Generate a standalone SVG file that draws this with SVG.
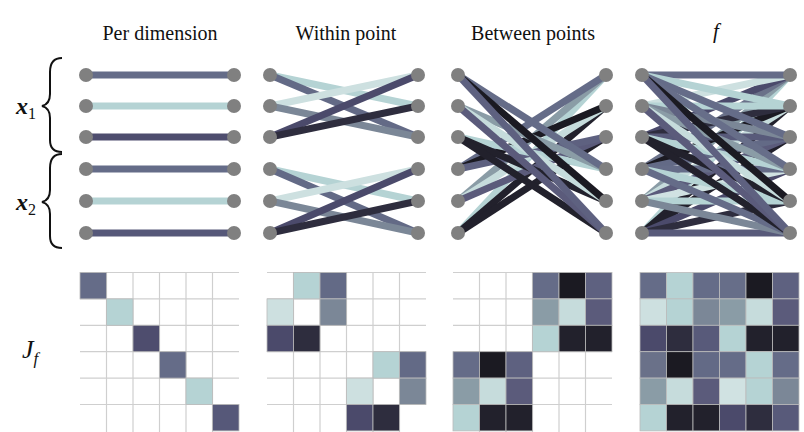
<svg xmlns="http://www.w3.org/2000/svg" width="804" height="432" viewBox="0 0 804 432">
<style>
.t{font-family:"Liberation Serif",serif;font-size:20px;fill:#111;text-anchor:middle}
.m{font-family:"Liberation Serif",serif;font-style:italic;fill:#111}
.e line{stroke-width:7;stroke-linecap:butt}
.n circle{fill:#808080}
.g line{stroke:#cfcfcf;stroke-width:1.2}
.c rect{width:26.5px;height:26.4px;stroke:#bbb;stroke-width:0.8}
</style>
<rect width="804" height="432" fill="#fff"/>
<g id="titles">
<text class="t" x="160" y="40">Per dimension</text>
<text class="t" x="346" y="40">Within point</text>
<text class="t" x="533" y="40">Between points</text>
<text class="m" x="713" y="38" font-size="21">f</text>
</g>
<g id="labels">
<text class="m" x="16" y="114" font-size="24" font-weight="bold">x<tspan font-size="16" font-style="normal" font-weight="normal" dy="5">1</tspan></text>
<text class="m" x="16" y="210" font-size="24" font-weight="bold">x<tspan font-size="16" font-style="normal" font-weight="normal" dy="5">2</tspan></text>
<path d="M62,58 Q50,58 50,72 L50,94 Q50,104 42,106 Q50,108 50,118 L50,140 Q50,152 62,152" fill="none" stroke="#111" stroke-width="2"/>
<path d="M62,154 Q50,154 50,168 L50,190 Q50,200 42,202 Q50,204 50,214 L50,236 Q50,248 62,248" fill="none" stroke="#111" stroke-width="2"/>
<text class="m" x="22" y="358" font-size="26">J<tspan font-size="17" dy="6">f</tspan></text>
</g>
<g id="connectors" class="e">
<g transform="translate(86,0)">
<line x1="0" y1="75" x2="148" y2="75" stroke="#656c88"/>
<line x1="0" y1="106" x2="148" y2="106" stroke="#b5d3d4"/>
<line x1="0" y1="137" x2="148" y2="137" stroke="#4e4d6e"/>
<line x1="0" y1="169" x2="148" y2="169" stroke="#656c88"/>
<line x1="0" y1="201" x2="148" y2="201" stroke="#b5d3d4"/>
<line x1="0" y1="233" x2="148" y2="233" stroke="#565879"/>
</g>
<g transform="translate(270,0)">
<line x1="0" y1="75" x2="148" y2="106" stroke="#b5d3d4"/>
<line x1="0" y1="75" x2="148" y2="137" stroke="#636a86"/>
<line x1="0" y1="106" x2="148" y2="75" stroke="#cde0e0"/>
<line x1="0" y1="106" x2="148" y2="137" stroke="#7b8797"/>
<line x1="0" y1="137" x2="148" y2="75" stroke="#4b4a6b"/>
<line x1="0" y1="137" x2="148" y2="106" stroke="#2e2d3e"/>
<line x1="0" y1="169" x2="148" y2="201" stroke="#b5d3d4"/>
<line x1="0" y1="169" x2="148" y2="233" stroke="#636a86"/>
<line x1="0" y1="201" x2="148" y2="169" stroke="#cde0e0"/>
<line x1="0" y1="201" x2="148" y2="233" stroke="#7b8797"/>
<line x1="0" y1="233" x2="148" y2="169" stroke="#4b4a6b"/>
<line x1="0" y1="233" x2="148" y2="201" stroke="#2e2d3e"/>
</g>
<g transform="translate(458,0)">
<line x1="0" y1="233" x2="148" y2="75" stroke="#b5d3d4"/>
<line x1="0" y1="233" x2="148" y2="106" stroke="#22212c"/>
<line x1="0" y1="233" x2="148" y2="137" stroke="#22212c"/>
<line x1="0" y1="201" x2="148" y2="75" stroke="#8a9ca6"/>
<line x1="0" y1="201" x2="148" y2="106" stroke="#c6dcdc"/>
<line x1="0" y1="201" x2="148" y2="137" stroke="#5b5b7b"/>
<line x1="0" y1="169" x2="148" y2="75" stroke="#656c88"/>
<line x1="0" y1="169" x2="148" y2="106" stroke="#1b1a22"/>
<line x1="0" y1="169" x2="148" y2="137" stroke="#5e6180"/>
<line x1="0" y1="137" x2="148" y2="169" stroke="#b5d3d4"/>
<line x1="0" y1="137" x2="148" y2="201" stroke="#22212c"/>
<line x1="0" y1="137" x2="148" y2="233" stroke="#22212c"/>
<line x1="0" y1="106" x2="148" y2="169" stroke="#8a9ca6"/>
<line x1="0" y1="106" x2="148" y2="201" stroke="#c6dcdc"/>
<line x1="0" y1="106" x2="148" y2="233" stroke="#5b5b7b"/>
<line x1="0" y1="75" x2="148" y2="169" stroke="#656c88"/>
<line x1="0" y1="75" x2="148" y2="201" stroke="#1b1a22"/>
<line x1="0" y1="75" x2="148" y2="233" stroke="#5e6180"/>
</g>
<g transform="translate(642,0)">
<line x1="0" y1="233" x2="148" y2="75" stroke="#b5d3d4"/>
<line x1="0" y1="233" x2="148" y2="106" stroke="#22212c"/>
<line x1="0" y1="233" x2="148" y2="137" stroke="#22212c"/>
<line x1="0" y1="233" x2="148" y2="169" stroke="#4b4a6b"/>
<line x1="0" y1="233" x2="148" y2="201" stroke="#2e2d3e"/>
<line x1="0" y1="233" x2="148" y2="233" stroke="#585a7a"/>
<line x1="0" y1="201" x2="148" y2="75" stroke="#8a9ca6"/>
<line x1="0" y1="201" x2="148" y2="106" stroke="#c6dcdc"/>
<line x1="0" y1="201" x2="148" y2="137" stroke="#5b5b7b"/>
<line x1="0" y1="201" x2="148" y2="169" stroke="#d0e2e2"/>
<line x1="0" y1="201" x2="148" y2="201" stroke="#b5d3d4"/>
<line x1="0" y1="201" x2="148" y2="233" stroke="#7b8797"/>
<line x1="0" y1="169" x2="148" y2="75" stroke="#6a7189"/>
<line x1="0" y1="169" x2="148" y2="106" stroke="#1b1a22"/>
<line x1="0" y1="169" x2="148" y2="137" stroke="#636a86"/>
<line x1="0" y1="169" x2="148" y2="169" stroke="#656c88"/>
<line x1="0" y1="169" x2="148" y2="201" stroke="#b5d3d4"/>
<line x1="0" y1="169" x2="148" y2="233" stroke="#656c88"/>
<line x1="0" y1="137" x2="148" y2="75" stroke="#4b4a6b"/>
<line x1="0" y1="137" x2="148" y2="106" stroke="#2e2d3e"/>
<line x1="0" y1="137" x2="148" y2="137" stroke="#585a7a"/>
<line x1="0" y1="137" x2="148" y2="169" stroke="#b5d3d4"/>
<line x1="0" y1="137" x2="148" y2="201" stroke="#22212c"/>
<line x1="0" y1="137" x2="148" y2="233" stroke="#22212c"/>
<line x1="0" y1="106" x2="148" y2="75" stroke="#cde0e0"/>
<line x1="0" y1="106" x2="148" y2="106" stroke="#b5d3d4"/>
<line x1="0" y1="106" x2="148" y2="137" stroke="#7b8797"/>
<line x1="0" y1="106" x2="148" y2="169" stroke="#8a9ca6"/>
<line x1="0" y1="106" x2="148" y2="201" stroke="#c6dcdc"/>
<line x1="0" y1="106" x2="148" y2="233" stroke="#5b5b7b"/>
<line x1="0" y1="75" x2="148" y2="75" stroke="#656c88"/>
<line x1="0" y1="75" x2="148" y2="106" stroke="#b5d3d4"/>
<line x1="0" y1="75" x2="148" y2="137" stroke="#656c88"/>
<line x1="0" y1="75" x2="148" y2="169" stroke="#676e89"/>
<line x1="0" y1="75" x2="148" y2="201" stroke="#1b1a22"/>
<line x1="0" y1="75" x2="148" y2="233" stroke="#5e6180"/>
</g>
</g>
<g id="nodes" class="n">
<g id="n1"><circle cx="86" cy="75" r="7"/><circle cx="86" cy="106" r="7"/><circle cx="86" cy="137" r="7"/><circle cx="86" cy="169" r="7"/><circle cx="86" cy="201" r="7"/><circle cx="86" cy="233" r="7"/><circle cx="234" cy="75" r="7"/><circle cx="234" cy="106" r="7"/><circle cx="234" cy="137" r="7"/><circle cx="234" cy="169" r="7"/><circle cx="234" cy="201" r="7"/><circle cx="234" cy="233" r="7"/></g>
<g id="n2" transform="translate(184,0)"><circle cx="86" cy="75" r="7"/><circle cx="86" cy="106" r="7"/><circle cx="86" cy="137" r="7"/><circle cx="86" cy="169" r="7"/><circle cx="86" cy="201" r="7"/><circle cx="86" cy="233" r="7"/><circle cx="234" cy="75" r="7"/><circle cx="234" cy="106" r="7"/><circle cx="234" cy="137" r="7"/><circle cx="234" cy="169" r="7"/><circle cx="234" cy="201" r="7"/><circle cx="234" cy="233" r="7"/></g>
<g id="n3" transform="translate(372,0)"><circle cx="86" cy="75" r="7"/><circle cx="86" cy="106" r="7"/><circle cx="86" cy="137" r="7"/><circle cx="86" cy="169" r="7"/><circle cx="86" cy="201" r="7"/><circle cx="86" cy="233" r="7"/><circle cx="234" cy="75" r="7"/><circle cx="234" cy="106" r="7"/><circle cx="234" cy="137" r="7"/><circle cx="234" cy="169" r="7"/><circle cx="234" cy="201" r="7"/><circle cx="234" cy="233" r="7"/></g>
<g id="n4" transform="translate(556,0)"><circle cx="86" cy="75" r="7"/><circle cx="86" cy="106" r="7"/><circle cx="86" cy="137" r="7"/><circle cx="86" cy="169" r="7"/><circle cx="86" cy="201" r="7"/><circle cx="86" cy="233" r="7"/><circle cx="234" cy="75" r="7"/><circle cx="234" cy="106" r="7"/><circle cx="234" cy="137" r="7"/><circle cx="234" cy="169" r="7"/><circle cx="234" cy="201" r="7"/><circle cx="234" cy="233" r="7"/></g>
</g>
<defs>
<g id="grid" class="g">
<line x1="0" y1="0" x2="159" y2="0"/><line x1="0" y1="26.4" x2="159" y2="26.4"/><line x1="0" y1="52.8" x2="159" y2="52.8"/><line x1="0" y1="79.2" x2="159" y2="79.2"/><line x1="0" y1="105.6" x2="159" y2="105.6"/><line x1="0" y1="132" x2="159" y2="132"/>
<line x1="26.5" y1="0" x2="26.5" y2="160"/><line x1="53" y1="0" x2="53" y2="160"/><line x1="79.5" y1="0" x2="79.5" y2="160"/><line x1="106" y1="0" x2="106" y2="160"/><line x1="132.5" y1="0" x2="132.5" y2="160"/>
</g>
</defs>
<g id="matrix1" class="c" transform="translate(80,272.5)">
<use href="#grid"/>
<rect x="0" y="0" fill="#656c88"/><rect x="26.5" y="26.4" fill="#b5d3d4"/><rect x="53" y="52.8" fill="#4e4d6e"/><rect x="79.5" y="79.2" fill="#656c88"/><rect x="106" y="105.6" fill="#b5d3d4"/><rect x="132.5" y="132" fill="#565879"/>
</g>
<g id="matrix2" class="c" transform="translate(267,272.5)">
<use href="#grid"/>
<rect x="26.5" y="0" fill="#b5d3d4"/><rect x="53" y="0" fill="#636a86"/>
<rect x="0" y="26.4" fill="#cde0e0"/><rect x="53" y="26.4" fill="#7b8797"/>
<rect x="0" y="52.8" fill="#4b4a6b"/><rect x="26.5" y="52.8" fill="#2e2d3e"/>
<rect x="106" y="79.2" fill="#b5d3d4"/><rect x="132.5" y="79.2" fill="#636a86"/>
<rect x="79.5" y="105.6" fill="#cde0e0"/><rect x="132.5" y="105.6" fill="#7b8797"/>
<rect x="79.5" y="132" fill="#4b4a6b"/><rect x="106" y="132" fill="#2e2d3e"/>
</g>
<g id="matrix3" class="c" transform="translate(453,272.5)">
<use href="#grid"/>
<rect x="79.5" y="0" fill="#656c88"/><rect x="106" y="0" fill="#1b1a22"/><rect x="132.5" y="0" fill="#5e6180"/>
<rect x="79.5" y="26.4" fill="#8a9ca6"/><rect x="106" y="26.4" fill="#c6dcdc"/><rect x="132.5" y="26.4" fill="#5b5b7b"/>
<rect x="79.5" y="52.8" fill="#b5d3d4"/><rect x="106" y="52.8" fill="#22212c"/><rect x="132.5" y="52.8" fill="#22212c"/>
<rect x="0" y="79.2" fill="#656c88"/><rect x="26.5" y="79.2" fill="#1b1a22"/><rect x="53" y="79.2" fill="#5e6180"/>
<rect x="0" y="105.6" fill="#8a9ca6"/><rect x="26.5" y="105.6" fill="#c6dcdc"/><rect x="53" y="105.6" fill="#5b5b7b"/>
<rect x="0" y="132" fill="#b5d3d4"/><rect x="26.5" y="132" fill="#22212c"/><rect x="53" y="132" fill="#22212c"/>
</g>
<g id="matrix4" class="c" transform="translate(640,272.5)">
<rect x="0" y="0" fill="#656c88"/><rect x="26.5" y="0" fill="#b5d3d4"/><rect x="53" y="0" fill="#656c88"/><rect x="79.5" y="0" fill="#676e89"/><rect x="106" y="0" fill="#1b1a22"/><rect x="132.5" y="0" fill="#5e6180"/>
<rect x="0" y="26.4" fill="#cde0e0"/><rect x="26.5" y="26.4" fill="#b5d3d4"/><rect x="53" y="26.4" fill="#7b8797"/><rect x="79.5" y="26.4" fill="#8a9ca6"/><rect x="106" y="26.4" fill="#c6dcdc"/><rect x="132.5" y="26.4" fill="#5b5b7b"/>
<rect x="0" y="52.8" fill="#4b4a6b"/><rect x="26.5" y="52.8" fill="#2e2d3e"/><rect x="53" y="52.8" fill="#585a7a"/><rect x="79.5" y="52.8" fill="#b5d3d4"/><rect x="106" y="52.8" fill="#22212c"/><rect x="132.5" y="52.8" fill="#22212c"/>
<rect x="0" y="79.2" fill="#6a7189"/><rect x="26.5" y="79.2" fill="#1b1a22"/><rect x="53" y="79.2" fill="#636a86"/><rect x="79.5" y="79.2" fill="#656c88"/><rect x="106" y="79.2" fill="#b5d3d4"/><rect x="132.5" y="79.2" fill="#656c88"/>
<rect x="0" y="105.6" fill="#8a9ca6"/><rect x="26.5" y="105.6" fill="#c6dcdc"/><rect x="53" y="105.6" fill="#5b5b7b"/><rect x="79.5" y="105.6" fill="#d0e2e2"/><rect x="106" y="105.6" fill="#b5d3d4"/><rect x="132.5" y="105.6" fill="#7b8797"/>
<rect x="0" y="132" fill="#b5d3d4"/><rect x="26.5" y="132" fill="#22212c"/><rect x="53" y="132" fill="#22212c"/><rect x="79.5" y="132" fill="#4b4a6b"/><rect x="106" y="132" fill="#2e2d3e"/><rect x="132.5" y="132" fill="#585a7a"/>
</g>
</svg>
